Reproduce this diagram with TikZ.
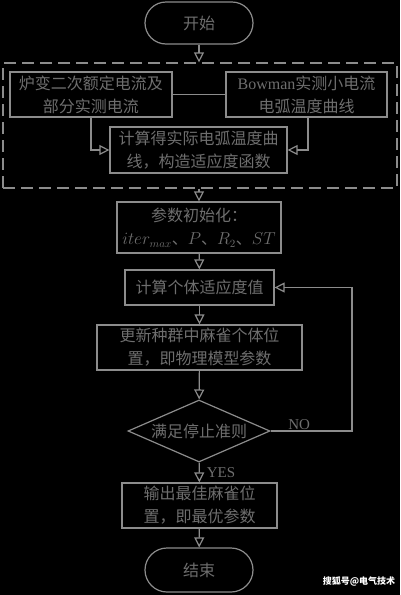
\documentclass[tikz,border=0pt]{standalone}
\usepackage{fontspec}
\setmainfont{Liberation Serif}
\newfontfamily\cjk{Noto Sans CJK SC}
\usetikzlibrary{arrows.meta,shapes.geometric,shapes.misc}

\definecolor{lin}{RGB}{140,140,140}
\definecolor{txt}{RGB}{110,110,110}

\tikzset{
    box/.style={draw=lin, line width=1.2pt, inner sep=0pt, align=center, text=txt,
        font=\cjk\fontsize{16}{23}\selectfont, minimum width=#1},
    capsule/.style={box=108, rounded rectangle},
    flow/.style={draw=lin, line width=1.2pt, -{Triangle[open, length=10pt, width=10pt]}},
    link/.style={draw=lin, line width=1.2pt},
    tag/.style={text=txt, font=\fontsize{15}{18}\selectfont, inner sep=1pt}
}

\begin{document}
\begin{tikzpicture}[x=1pt, y=1pt]
        \path[use as bounding box, fill=black] (0,0) rectangle (400,-595);

        \node (start) [capsule, minimum height=42] at (199,-23) {开始};

        \node (group) [link, dash pattern=on 12pt off 6pt, minimum width=394, minimum height=125] at (200,-125.5) {};
        \node (left) [box=162, minimum height=45] at (91,-94.5) {炉变二次额定电流及\\部分实测电流};
        \node (right) [box=161, minimum height=45] at (306.5,-94.5) {{\rmfamily Bowman}实测小电流\\电弧温度曲线};
        \node (calc) [box=177, minimum height=46] at (198.5,-150) {计算得实际电弧温度曲\\线，构造适应度函数};

        \node (param) [box=164, minimum height=51] at (199,-227.5) {参数初始化：\\$iter_{max}$、$P$、$R_2$、$ST$};
        \node (fit) [box=149, minimum height=35] at (199.5,-287.5) {计算个体适应度值};
        \node (update) [box=205, minimum height=45] at (199.5,-347.5) {更新种群中麻雀个体位\\置，即物理模型参数};
        \node (test) [box=142, diamond, aspect=2.3, minimum height=62] at (199,-431) {满足停止准则};
        \node (out) [box=155, minimum height=45] at (199.5,-505.5) {输出最佳麻雀位\\置，即最优参数};
        \node (end) [capsule, minimum height=44] at (199,-570) {结束};

        \coordinate (loop) at (352,-431);

        \draw[flow] (start.south) -- (start.south |- group.north);
        \draw[link] (left.east) -- (right.west);
        \draw[flow] (left.south) |- (calc.west);
        \draw[flow] ([xshift=1.5pt]right.south) |- (calc.east);
        \draw[flow] (param.north |- group.south) -- (param.north);
        \draw[flow] (param) -- (fit);
        \draw[flow] (fit) -- (update);
        \draw[flow] (update) -- (test);
        \draw[flow] (test) -- node[tag, right, xshift=6pt] {YES} (out);
        \draw[flow] (test.east) -- node[tag, above, pos=0.35] {NO} (loop) |- (fit.east);
        \draw[flow] (out) -- (end);

        \node (mark) [text=white, font=\cjk\bfseries\fontsize{9}{11}\selectfont] at (359,-581) {搜狐号@电气技术};
\end{tikzpicture}
\end{document}
